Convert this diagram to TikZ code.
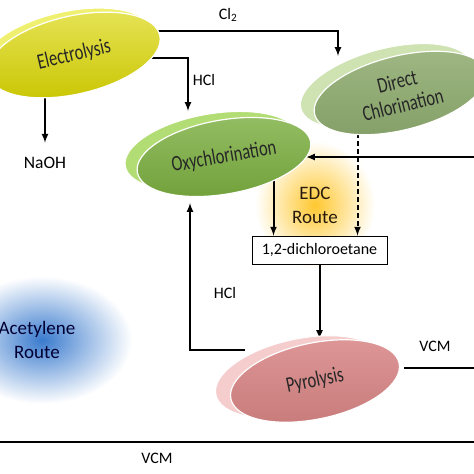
\documentclass[tikz,border=0pt]{standalone}
\usepackage{graphicx}
\usepackage{fontspec}
\setmainfont{Carlito}
\usetikzlibrary{shapes.geometric}
\pgfdeclarelayer{lines}
\pgfsetlayers{lines,main}

\definecolor{elecC}{HTML}{DAD600}
\definecolor{elecBack}{HTML}{F0F070}
\definecolor{oxyC}{HTML}{7AAE3E}
\definecolor{oxyBack}{HTML}{B2DC74}
\definecolor{dchC}{HTML}{8FAC6F}
\definecolor{dchBack}{HTML}{CFE2B2}
\definecolor{pyrC}{HTML}{D98585}
\definecolor{pyrBack}{HTML}{F5CDCD}
\definecolor{edcGlow}{HTML}{FFC830}
\definecolor{acGlow}{HTML}{3A7BCE}

\newcommand{\narrow}[1]{\scalebox{0.75}[1]{#1}}

\begin{document}
\begin{tikzpicture}[x=1pt, y=-1pt, >=latex,
    shell/.style = {ellipse, inner sep=0pt, draw=white, line width=1pt},
    core/.style = {ellipse, inner sep=0pt, draw=white, line width=1.2pt,
                   align=center, text=black!85, font=\fontsize{22}{24}\selectfont},
    tag/.style = {font=\fontsize{16}{18}\selectfont},
    route/.style = {align=center, font=\fontsize{19}{24}\selectfont},
    flow/.style = {line width=2pt}]
  \useasboundingbox (0,0) rectangle (474,474);
  \clip (0,0) rectangle (474,474);

  % ghost copies
  \node[shell, fill=elecBack, minimum width=176pt, minimum height=78pt, rotate=13] (elecb) at (67,51) {};
  \node[shell, fill=oxyBack, minimum width=176pt, minimum height=74pt, rotate=10] (oxyb) at (212,151) {};
  \node[shell, fill=dchBack, minimum width=176pt, minimum height=74pt, rotate=15] (dchlb) at (386,86) {};
  \node[shell, fill=pyrBack, minimum width=172pt, minimum height=76pt, rotate=12] (pyrob) at (300,377) {};

  % process units
  \node[core, top color=elecC!65!white, bottom color=elecC!92!black, minimum width=176pt, minimum height=78pt, rotate=13] (elec) at (74,55) {\narrow{Electrolysis}};
  \node[core, top color=oxyC!80!white, bottom color=oxyC!92!black, minimum width=176pt, minimum height=74pt, rotate=10] (oxy) at (224,157) {\narrow{Oxychlorination}};
  \node[core, top color=dchC!85!white, bottom color=dchC!92!black, minimum width=176pt, minimum height=74pt, rotate=14] (dchl) at (400,93) {\narrow{Direct}\\\narrow{Chlorination}};
  \node[core, top color=pyrC!85!white, bottom color=pyrC!92!black, minimum width=172pt, minimum height=76pt, rotate=12] (pyro) at (315,381) {\narrow{Pyrolysis}};

  \node[draw, fill=white, line width=0.8pt, tag, minimum width=135pt, minimum height=28pt] (edc) at (319.5,250) {1,2-dichloroetane};

  \node[tag, font=\fontsize{17.5}{20}\selectfont] (naoh) at (45,163) {NaOH};
  \node[tag] (cltwo) at (228,15) {Cl\textsubscript{2}};
  \node[tag] (hcla) at (204,80) {HCl};
  \node[tag] (hclb) at (225,293) {HCl};
  \node[tag] (vcma) at (435,346) {VCM};
  \node[tag] (vcmb) at (157,458) {VCM};

  \node[route, text=black!80!brown] (edcr) at (315,205) {EDC\\Route};
  \node[route, text=black!80!blue] (acet) at (37,340) {Acetylene\\Route};

  \coordinate (oxin) at (474,157);
  \coordinate (vcmend) at (474,368);
  \coordinate (bl) at (0,442);
  \coordinate (br) at (474,442);

  \begin{pgfonlayer}{lines}
    \shade[inner color=edcGlow, outer color=white] (edcr) ellipse [x radius=60pt, y radius=64pt];
    \shade[inner color=acGlow, outer color=white] ([xshift=5pt]acet.center) ellipse [x radius=90pt, y radius=64pt];

    \draw[flow, ->] ([shift={(40pt,24pt)}]elec.center) -| ([shift={(-62pt,37pt)}]dchl.center);
    \draw[flow, ->] ([shift={(22pt,-3pt)}]elec.center) -| ([shift={(-36pt,46pt)}]oxy.center);
    \draw[flow, ->] (naoh.north |- elec.center) -- ([yshift=11pt]naoh.north);
    \draw[flow, ->] (oxin) -- ([shift={(82pt,0pt)}]oxy.center);
    \draw[flow, ->, dash pattern=on 5pt off 3pt] ([xshift=38pt]edc.north |- dchl.center) -- ([xshift=38pt]edc.north);
    \draw[flow, ->] ([xshift=-46pt]edc.north |- oxy.center) -- ([xshift=-46pt]edc.north);
    \draw[flow, ->] (edc.south) -- ([yshift=42pt]edc.south |- pyro.center);
    \draw[flow, ->] ([shift={(-70pt,31pt)}]pyro.center) -| ([shift={(-34pt,-46pt)}]oxy.center);
    \draw[flow] ([shift={(89pt,13pt)}]pyro.center) -- (vcmend);
    \draw[flow] (bl) -- (br);
  \end{pgfonlayer}
\end{tikzpicture}
\end{document}
